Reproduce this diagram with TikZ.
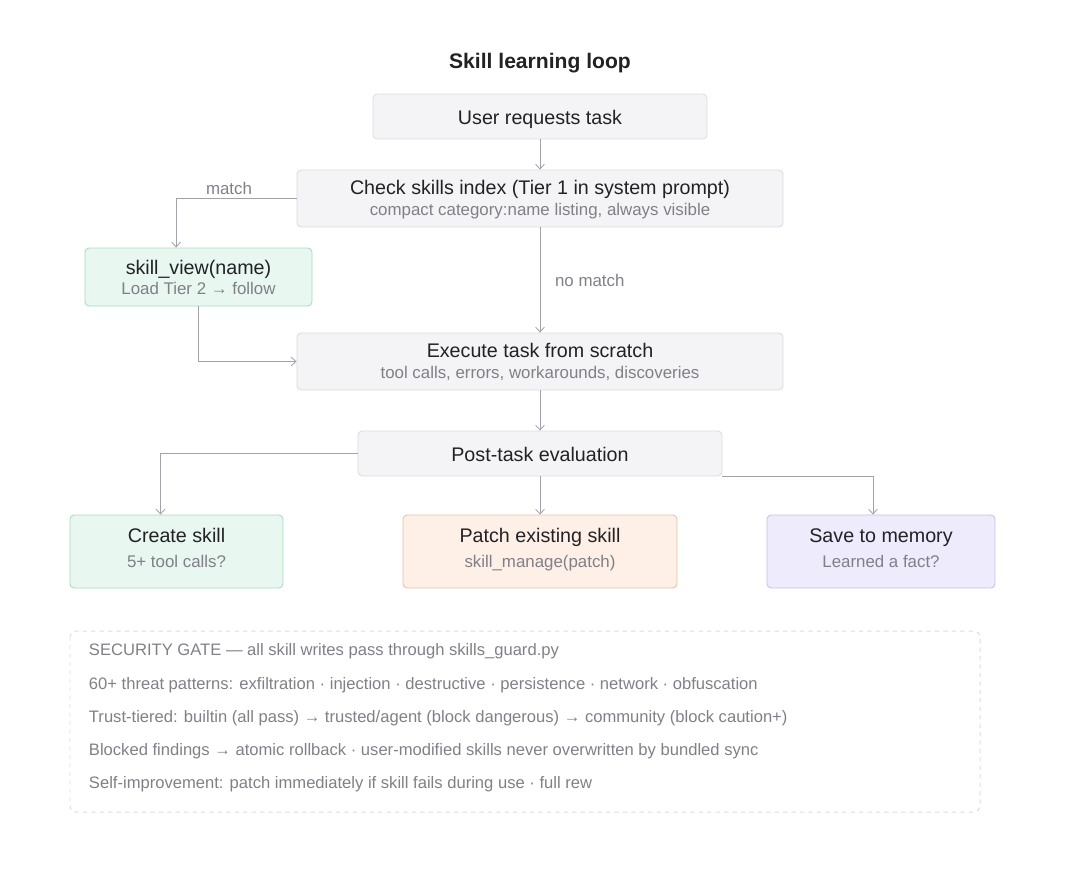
\documentclass[tikz,border=0pt]{standalone}
\usepackage{fontspec}
\setmainfont{Liberation Sans}
\usepackage{xcolor}
\usepackage{tikz}
\usetikzlibrary{positioning, arrows.meta, calc}
\definecolor{ink}{HTML}{222226}
\definecolor{subink}{HTML}{808088}
\definecolor{wire}{HTML}{A2A2AA}
\definecolor{greybg}{HTML}{F4F4F6}
\definecolor{greyln}{HTML}{DCDCE0}
\definecolor{greenbg}{HTML}{E8F7EF}
\definecolor{greenln}{HTML}{A6DCBE}
\definecolor{orangebg}{HTML}{FEF0E6}
\definecolor{orangeln}{HTML}{E6C0A4}
\definecolor{purplebg}{HTML}{EEEBFC}
\definecolor{purpleln}{HTML}{C6BFEC}
% #1 = height of the head line above its baseline (pt)
\newcommand{\headline}[2][12.4]{\rule[-3pt]{0pt}{\dimexpr#1pt+3pt\relax}#2}
% #1 = depth of the sub line below its baseline (pt)
\newcommand{\subline}[2][3]{{\fontsize{12}{14}\selectfont\color{subink}\rule[-#1pt]{0pt}{\dimexpr9pt+#1pt\relax}#2}}

\begin{document}
\begin{tikzpicture}[x=0.025cm, y=-0.025cm,
        every node/.style={font=\fontsize{14}{17}\selectfont, text=ink},
        box/.style={rectangle, rounded corners=3pt, draw=greyln, fill=greybg,
          line width=0.6pt, align=center, inner sep=2pt},
        onebox/.style={box, text height=11.1pt, text depth=0pt},
        greenbox/.style={box, draw=greenln, fill=greenbg},
        orangebox/.style={box, draw=orangeln, fill=orangebg},
        purplebox/.style={box, draw=purpleln, fill=purplebg},
        arr/.style={-{Straight Barb[length=1.2mm, width=2.2mm]}, draw=wire, line width=0.6pt},
        lbl/.style={font=\fontsize{12}{14}\selectfont, text=subink},
        gate/.style={font=\fontsize{11.8}{14}\selectfont, text=subink, anchor=west}]
      \useasboundingbox (0,0) rectangle (1080,884);
      \node[font=\bfseries\fontsize{15}{18}\selectfont, anchor=base] (title) at (540,68) {Skill learning loop};

      % main column
      \node[onebox, minimum width=8.35cm, minimum height=1.125cm] (user) at (540,116.5) {User requests task};
      \node[box, minimum width=12.15cm, minimum height=1.425cm] (check) at (540,198.5)
        {\headline{Check skills index (Tier 1 in system prompt)}\\[-2.3pt]\subline{compact category:name listing, always visible}};
      \node[greenbox, minimum width=5.675cm, minimum height=1.45cm] (view) at (198.5,277)
        {\headline[13.4]{skill\_view(name)}\\[-2.8pt]\subline{Load Tier 2 → follow}};
      \node[box, minimum width=12.15cm, minimum height=1.425cm] (exec) at (540,361.5)
        {\headline{Execute task from scratch}\\[-2.3pt]\subline{tool calls, errors, workarounds, discoveries}};
      \node[onebox, minimum width=9.1cm, minimum height=1.125cm] (post) at (540,453.5) {Post-task evaluation};

      % outcomes
      \node[greenbox, minimum width=5.325cm, minimum height=1.825cm] (create) at (176.5,551.5)
        {\headline[11]{Create skill}\\[0.6pt]\subline[6.2]{5+ tool calls?}};
      \node[orangebox, minimum width=6.85cm, minimum height=1.825cm] (patch) at (540,551.5)
        {\headline[11]{Patch existing skill}\\[0.6pt]\subline[6.2]{skill\_manage(patch)}};
      \node[purplebox, minimum width=5.7cm, minimum height=1.825cm] (save) at (881,551.5)
        {\headline[11]{Save to memory}\\[0.6pt]\subline[6.2]{Learned a fact?}};

      % connectors
      \draw[arr] (user) -- (check);
      \draw[arr] (check.west) -| ([xshift=-0.56cm]view.north);
      \node[lbl] (matchlbl) at (229,188) {match};
      \draw[arr] (check) -- node[lbl, right=0.25cm] (nomatch) {no match} (exec);
      \draw[arr] (view.south) |- (exec.west);
      \draw[arr] (exec) -- (post);
      \draw[arr] (post.west) -| ([xshift=-0.4cm]create.north);
      \draw[arr] (post) -- (patch);
      \draw[arr] (post.south east) -| ([xshift=-0.2cm]save.north);

      % security gate
      \draw[greyln, dashed, line width=0.7pt, rounded corners=4pt] (70,631) rectangle (980,812);
      \node[gate] (g1) at (84,651) {SECURITY GATE — all skill writes pass through skills\_guard.py};
      \node[gate] (g2) at (84,685) {60+ threat patterns: exfiltration · injection · destructive · persistence · network · obfuscation};
      \node[gate] (g3) at (84,718) {Trust-tiered: builtin (all pass) → trusted/agent (block dangerous) → community (block caution+)};
      \node[gate] (g4) at (84,751) {Blocked findings → atomic rollback · user-modified skills never overwritten by bundled sync};
      \node[gate] (g5) at (84,784) {Self-improvement: patch immediately if skill fails during use · full rew};
    \end{tikzpicture}
\end{document}
